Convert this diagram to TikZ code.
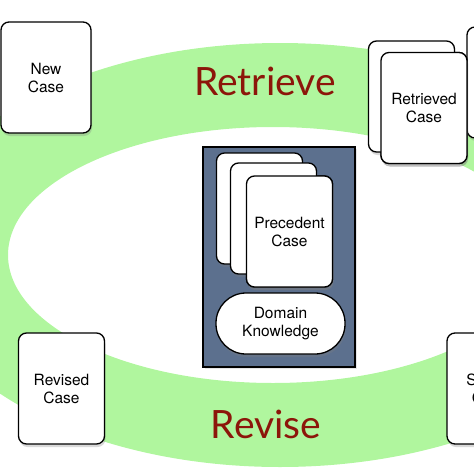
\documentclass[tikz,border=0pt]{standalone}
\usepackage{fontspec}
\setmainfont{TeX Gyre Heros}
\newfontfamily\stepfont{Lato}
\usetikzlibrary{positioning,shadows}
\definecolor{ringgreen}{RGB}{176,246,158}
\definecolor{slate}{RGB}{92,112,142}
\definecolor{stepred}{RGB}{140,22,10}

\begin{document}
\begin{tikzpicture}[x=1pt,y=-1pt,on grid]
	\tikzstyle{card}=[draw=black,line width=1.3pt,fill=white,rounded corners=8pt,minimum width=86pt,minimum height=111pt,inner sep=0pt,align=center,font=\fontsize{15.5}{18}\selectfont,drop shadow={shadow xshift=1pt,shadow yshift=-3pt,opacity=.3}]
	\tikzstyle{kbox}=[draw=black,line width=1.8pt,fill=slate,minimum width=152pt,minimum height=220pt,inner sep=0pt,drop shadow={shadow xshift=2pt,shadow yshift=-2pt,opacity=.2}]
	\tikzstyle{pill}=[card,rounded corners=30pt,minimum width=129pt,minimum height=61pt]
	\tikzstyle{steplabel}=[text=stepred,font=\stepfont\fontsize{39}{39}\selectfont,anchor=base,inner sep=0pt]

	\useasboundingbox (0,0) rectangle (474,474);
	\clip (0,0) rectangle (474,474);

	% the cycle
	\fill[ringgreen,even odd rule] (280,255) ellipse [x radius=370,y radius=212]
		(273,255) ellipse [x radius=265,y radius=128];
	\node[steplabel] (retrieve) at (265,95)  {Retrieve};
	\node[steplabel] (revise)   at (266,438) {Revise};

	% case base in the middle
	\node[kbox] (kb) at (279,257) {};
	\node[card] (prec)  at (289.5,231.5) {};
	\node[card] (prec3) [above left=23pt and 30pt of prec] {};
	\node[card] (prec2) [above left=13pt and 16pt of prec] {};
	\node[card] (prec1) at (prec) {Precedent\\Case};
	\node[pill] (dk) at (280.5,323.5) {Domain\\Knowledge};

	% cases round the cycle
	\node[card,minimum width=90pt] (new) at (46,77.5) {New\\Case};
	\node[card] (ret3) at (510,82.5) {};
	\node[card] (ret)  at (424,108) {};
	\node[card] (ret2) [above left=11.5pt and 12.5pt of ret] {};
	\node[card] (ret1) at (ret) {Retrieved\\Case};
	\node[card] (solved)  at (490,388.5) {Solved\\Case};
	\node[card] (revised) at (61.5,388.5) {Revised\\Case};
\end{tikzpicture}
\end{document}
